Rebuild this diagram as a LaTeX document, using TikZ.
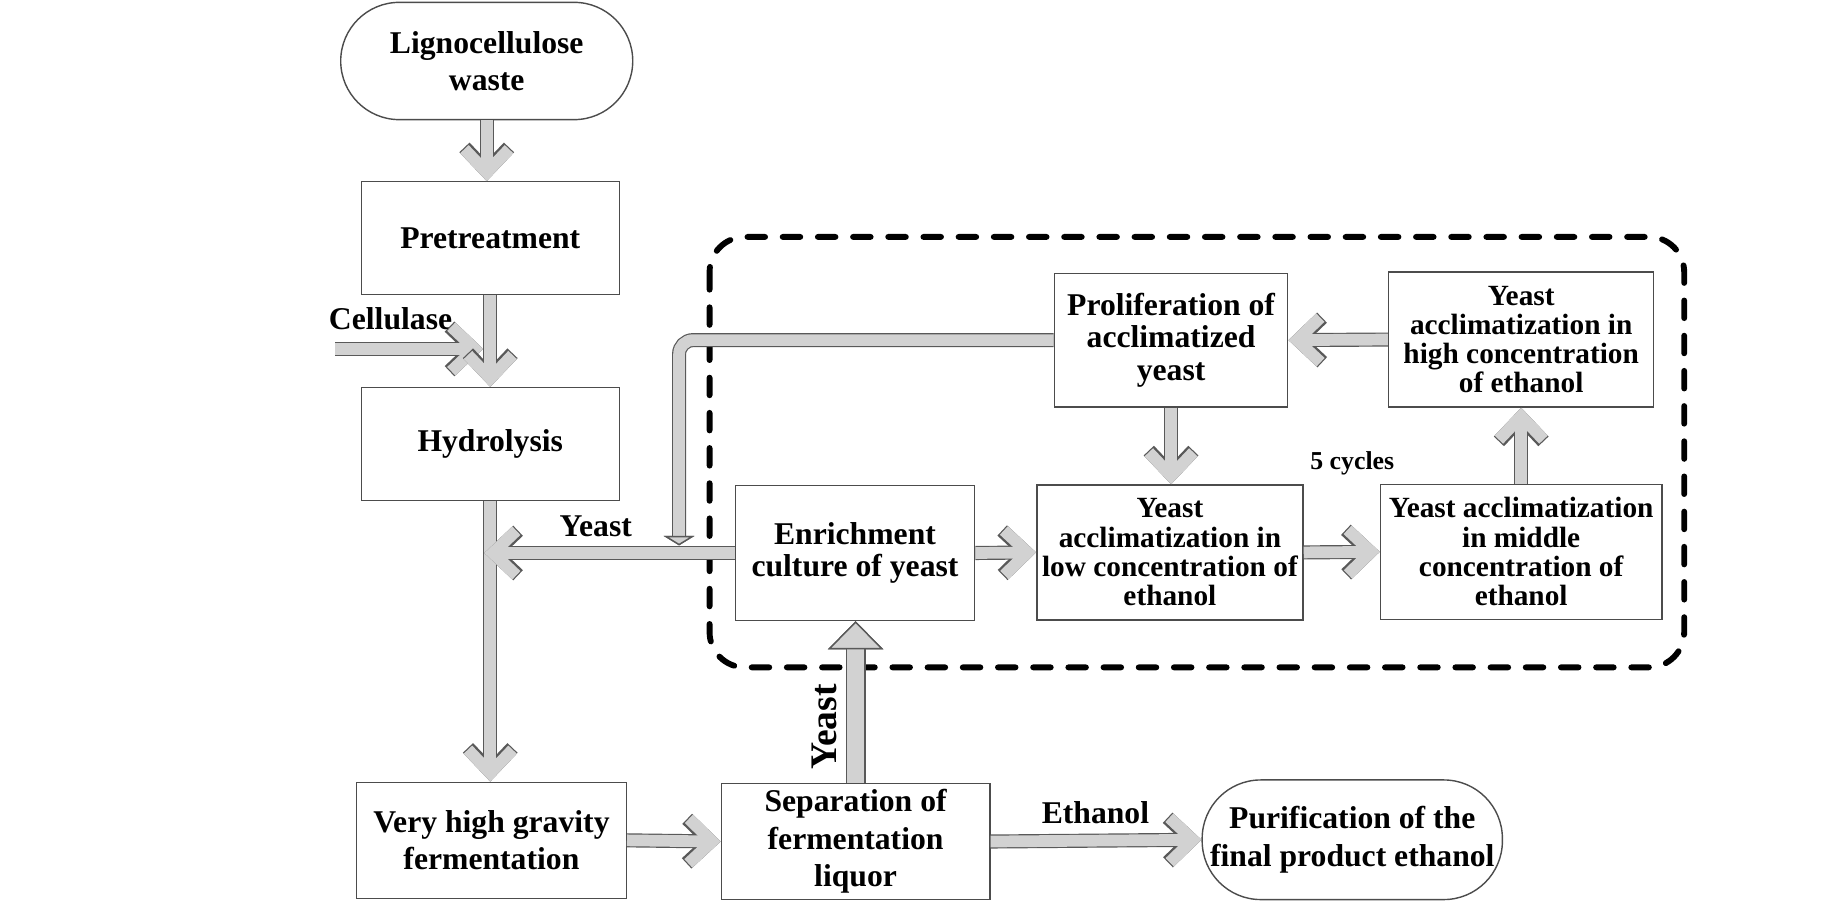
\documentclass[tikz,border=0pt]{standalone}
\usepackage{fontspec}
\setmainfont{Liberation Serif}
\usetikzlibrary{arrows.meta}

\tikzset{
  box/.style={draw=black!70, line width=0.6pt, fill=white, inner sep=0pt, align=center,
    font=\bfseries\fontsize{13.5}{16}\selectfont},
  tight/.style={box, font=\bfseries\fontsize{13.5}{14}\selectfont},
  quad/.style={box, font=\bfseries\fontsize{12.5}{12.5}\selectfont},
  term/.style={box, rounded corners=25pt},
  lbl/.style={inner sep=0pt, font=\bfseries\fontsize{13.5}{14}\selectfont},
  flow/.style={line width=5pt, draw=gray!35,
    -{Straight Barb[sharp, length=10pt, width=19pt]},
    preaction={draw=black!65, line width=6pt}},
  flowup/.style={line width=7.5pt, draw=gray!35,
    -{Triangle[length=12pt, width=23.5pt, line width=0.6pt, fill=gray!35, color=black!65]},
    preaction={draw=black!65, line width=8.5pt}},
  flowsmall/.style={line width=5pt, draw=gray!35, rounded corners=6pt,
    -{Triangle[length=4pt, width=13pt, line width=0.6pt, fill=gray!35, color=black!65]},
    preaction={draw=black!65, line width=6pt}},
  frame/.style={draw, line width=2.5pt, line cap=round, dash pattern=on 7.5pt off 7.5pt,
    rounded corners=15pt}
}

\begin{document}
\begin{tikzpicture}[x=0.5pt, y=-0.5pt]
\useasboundingbox (0,0) rectangle (1568,782);

% acclimatization loop
\draw[frame] (605,202) rectangle (1436,569);

\node[term, minimum width=124.5pt, minimum height=50pt] (lig) at (415,52) {Lignocellulose\\waste};
\node[box, minimum width=110pt, minimum height=48pt] (pre) at (418,203) {Pretreatment};
\node[box, minimum width=110pt, minimum height=48pt] (hyd) at (418,378.5) {Hydrolysis};
\node[box, minimum width=115pt, minimum height=49.5pt] (vhg) at (419,716.5) {Very high gravity\\fermentation};
\node[box, minimum width=114.5pt, minimum height=49.5pt] (sep) at (729.5,717.5) {Separation of\\fermentation\\liquor};
\node[term, minimum width=128pt, minimum height=51pt] (pur) at (1153,716) {Purification of the\\final product ethanol};

\node[tight, minimum width=102pt, minimum height=57.5pt] (enr) at (729,471.5) {Enrichment\\culture of yeast};
\node[quad, minimum width=113.5pt, minimum height=57.5pt] (low) at (997.5,471) {Yeast\\acclimatization in\\low concentration of\\ethanol};
\node[quad, minimum width=120pt, minimum height=57.5pt] (mid) at (1297,470.5) {Yeast acclimatization\\in middle\\concentration of\\ethanol};
\node[quad, minimum width=113pt, minimum height=57.5pt] (high) at (1297,289.5) {Yeast\\acclimatization in\\high concentration\\of ethanol};
\node[tight, minimum width=99.5pt, minimum height=57pt] (prol) at (998.5,290) {Proliferation of\\acclimatized\\yeast};

\node[lbl] (cellab) at (333,272) {Cellulase};
\node[lbl] (ylab) at (508,449) {Yeast};
\node[lbl, rotate=90, font=\bfseries\fontsize{16}{16}\selectfont] (yup) at (703,620) {Yeast};
\node[lbl] (etlab) at (934,693) {Ethanol};
\node[lbl, font=\bfseries\fontsize{11}{11}\selectfont] (cyc) at (1153,395) {5 cycles};

\coordinate (cel) at (286,297.5);
\coordinate (bend) at (579,465);

\draw[flow] (lig.south) -- (lig.south |- pre.north);
\draw[flow] (cel) -- ([xshift=-3pt]pre.south |- cel);
\draw[flow] (pre.south) -- (hyd.north);
\draw[flow] (hyd.south) -- (hyd.south |- vhg.north);
\draw[flow] (enr.west) -- ([xshift=-2.5pt]hyd.south |- enr.west);
\draw[flowsmall] (prol.west) -| (bend);
\draw[flow] (vhg.east) -- (sep.west);
\draw[flowup] (sep.north) -- (sep.north |- enr.south);
\draw[flow] (sep.east) -- (pur.west);
\draw[flow] (enr.east) -- (low.west);
\draw[flow] (low.east) -- (mid.west);
\draw[flow] (mid.north) -- (high.south);
\draw[flow] (high.west) -- (prol.east);
\draw[flow] (prol.south) -- (prol.south |- low.north);
\end{tikzpicture}
\end{document}
